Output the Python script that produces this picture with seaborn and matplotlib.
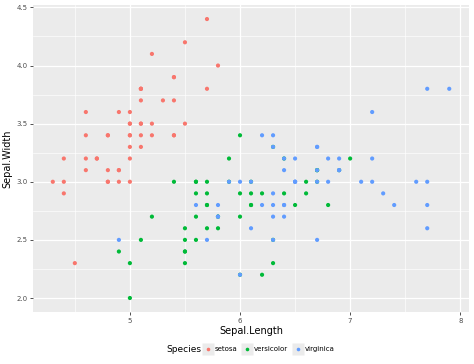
import numpy as np
import pandas as pd
import matplotlib
matplotlib.use('Agg')
import matplotlib.pyplot as plt
import seaborn as sns
from matplotlib.lines import Line2D

# iris sepal measurements (R's iris)
setosa_len = [5.1, 4.9, 4.7, 4.6, 5.0, 5.4, 4.6, 5.0, 4.4, 4.9, 5.4, 4.8, 4.8, 4.3, 5.8, 5.7, 5.4, 5.1, 5.7, 5.1,
              5.4, 5.1, 4.6, 5.1, 4.8, 5.0, 5.0, 5.2, 5.2, 4.7, 4.8, 5.4, 5.2, 5.5, 4.9, 5.0, 5.5, 4.9, 4.4, 5.1,
              5.0, 4.5, 4.4, 5.0, 5.1, 4.8, 5.1, 4.6, 5.3, 5.0]
setosa_wid = [3.5, 3.0, 3.2, 3.1, 3.6, 3.9, 3.4, 3.4, 2.9, 3.1, 3.7, 3.4, 3.0, 3.0, 4.0, 4.4, 3.9, 3.5, 3.8, 3.8,
              3.4, 3.7, 3.6, 3.3, 3.4, 3.0, 3.4, 3.5, 3.4, 3.2, 3.1, 3.4, 4.1, 4.2, 3.1, 3.2, 3.5, 3.6, 3.0, 3.4,
              3.5, 2.3, 3.2, 3.5, 3.8, 3.0, 3.8, 3.2, 3.7, 3.3]
versicolor_len = [7.0, 6.4, 6.9, 5.5, 6.5, 5.7, 6.3, 4.9, 6.6, 5.2, 5.0, 5.9, 6.0, 6.1, 5.6, 6.7, 5.6, 5.8, 6.2, 5.6,
                  5.9, 6.1, 6.3, 6.1, 6.4, 6.6, 6.8, 6.7, 6.0, 5.7, 5.5, 5.5, 5.8, 6.0, 5.4, 6.0, 6.7, 6.3, 5.6, 5.5,
                  5.5, 6.1, 5.8, 5.0, 5.6, 5.7, 5.7, 6.2, 5.1, 5.7]
versicolor_wid = [3.2, 3.2, 3.1, 2.3, 2.8, 2.8, 3.3, 2.4, 2.9, 2.7, 2.0, 3.0, 2.2, 2.9, 2.9, 3.1, 3.0, 2.7, 2.2, 2.5,
                  3.2, 2.8, 2.5, 2.8, 2.9, 3.0, 2.8, 3.0, 2.9, 2.6, 2.4, 2.4, 2.7, 2.7, 3.0, 3.4, 3.1, 2.3, 3.0, 2.5,
                  2.6, 3.0, 2.6, 2.3, 2.7, 3.0, 2.9, 2.9, 2.5, 2.8]
virginica_len = [6.3, 5.8, 7.1, 6.3, 6.5, 7.6, 4.9, 7.3, 6.7, 7.2, 6.5, 6.4, 6.8, 5.7, 5.8, 6.4, 6.5, 7.7, 7.7, 6.0,
                 6.9, 5.6, 7.7, 6.3, 6.7, 7.2, 6.2, 6.1, 6.4, 7.2, 7.4, 7.9, 6.4, 6.3, 6.1, 7.7, 6.3, 6.4, 6.0, 6.9,
                 6.7, 6.9, 5.8, 6.8, 6.7, 6.7, 6.3, 6.5, 6.2, 5.9]
virginica_wid = [3.3, 2.7, 3.0, 2.9, 3.0, 3.0, 2.5, 2.9, 2.5, 3.6, 3.2, 2.7, 3.0, 2.5, 2.8, 3.2, 3.0, 3.8, 2.6, 2.2,
                 3.2, 2.8, 2.8, 2.7, 3.3, 3.2, 2.8, 3.0, 2.8, 3.0, 2.8, 3.8, 2.8, 2.8, 2.6, 3.0, 3.4, 3.1, 3.0, 3.1,
                 3.1, 3.1, 2.7, 3.2, 3.3, 3.0, 2.5, 3.0, 3.4, 3.0]
species = ['setosa', 'versicolor', 'virginica']
colors = ['#F8766D', '#00BA38', '#619CFF']

df = pd.DataFrame({
    'Sepal.Length': setosa_len + versicolor_len + virginica_len,
    'Sepal.Width': setosa_wid + versicolor_wid + virginica_wid,
    'Species': ['setosa'] * 50 + ['versicolor'] * 50 + ['virginica'] * 50,
})

fig = plt.figure(figsize=(4.74, 3.64), dpi=100)
ax = fig.add_axes([0.0696, 0.143, 0.920, 0.843])
ax.set_facecolor('#EBEBEB')

sns.scatterplot(data=df, x='Sepal.Length', y='Sepal.Width', hue='Species',
                hue_order=species, palette=colors, s=9, linewidth=0,
                legend=False, ax=ax, zorder=3)

ax.set_xlim(4.12, 8.08)
ax.set_ylim(1.88, 4.52)
ax.set_xticks([5, 6, 7, 8])
ax.set_xticklabels(['5', '6', '7', '8'])
ax.set_yticks([2.0, 2.5, 3.0, 3.5, 4.0, 4.5])
ax.set_yticklabels(['2.0', '2.5', '3.0', '3.5', '4.0', '4.5'])
ax.set_xticks([4.5, 5.5, 6.5, 7.5], minor=True)
ax.set_yticks([2.25, 2.75, 3.25, 3.75, 4.25], minor=True)
ax.grid(which='major', color='white', linewidth=0.9)
ax.grid(which='minor', color='white', linewidth=0.45)
ax.set_axisbelow(True)
for s in ax.spines.values():
    s.set_visible(False)
ax.tick_params(which='major', length=2.5, width=0.6, color='#333333',
               labelsize=5, labelcolor='#4D4D4D', pad=1.5)
ax.tick_params(which='minor', length=0)
ax.set_xlabel('Sepal.Length', fontsize=7, labelpad=2)
ax.set_ylabel('Sepal.Width', fontsize=7, labelpad=3)

# legend at bottom
fig.text(0.352, 0.041, 'Species', fontsize=6.5, va='center', ha='left')
handles = []
for c in colors:
    bg = Line2D([], [], marker='s', linestyle='', markersize=9,
                markerfacecolor='#EBEBEB', markeredgecolor='none')
    pt = Line2D([], [], marker='o', linestyle='', markersize=2.6,
                markerfacecolor=c, markeredgecolor='none')
    handles.append((bg, pt))
fig.legend(handles, species, loc='center left', bbox_to_anchor=(0.425, 0.041),
           ncol=3, frameon=False, fontsize=5, handlelength=0.9,
           handletextpad=0.5, columnspacing=1.0, borderpad=0)

fig.savefig('out.png', dpi=100)
